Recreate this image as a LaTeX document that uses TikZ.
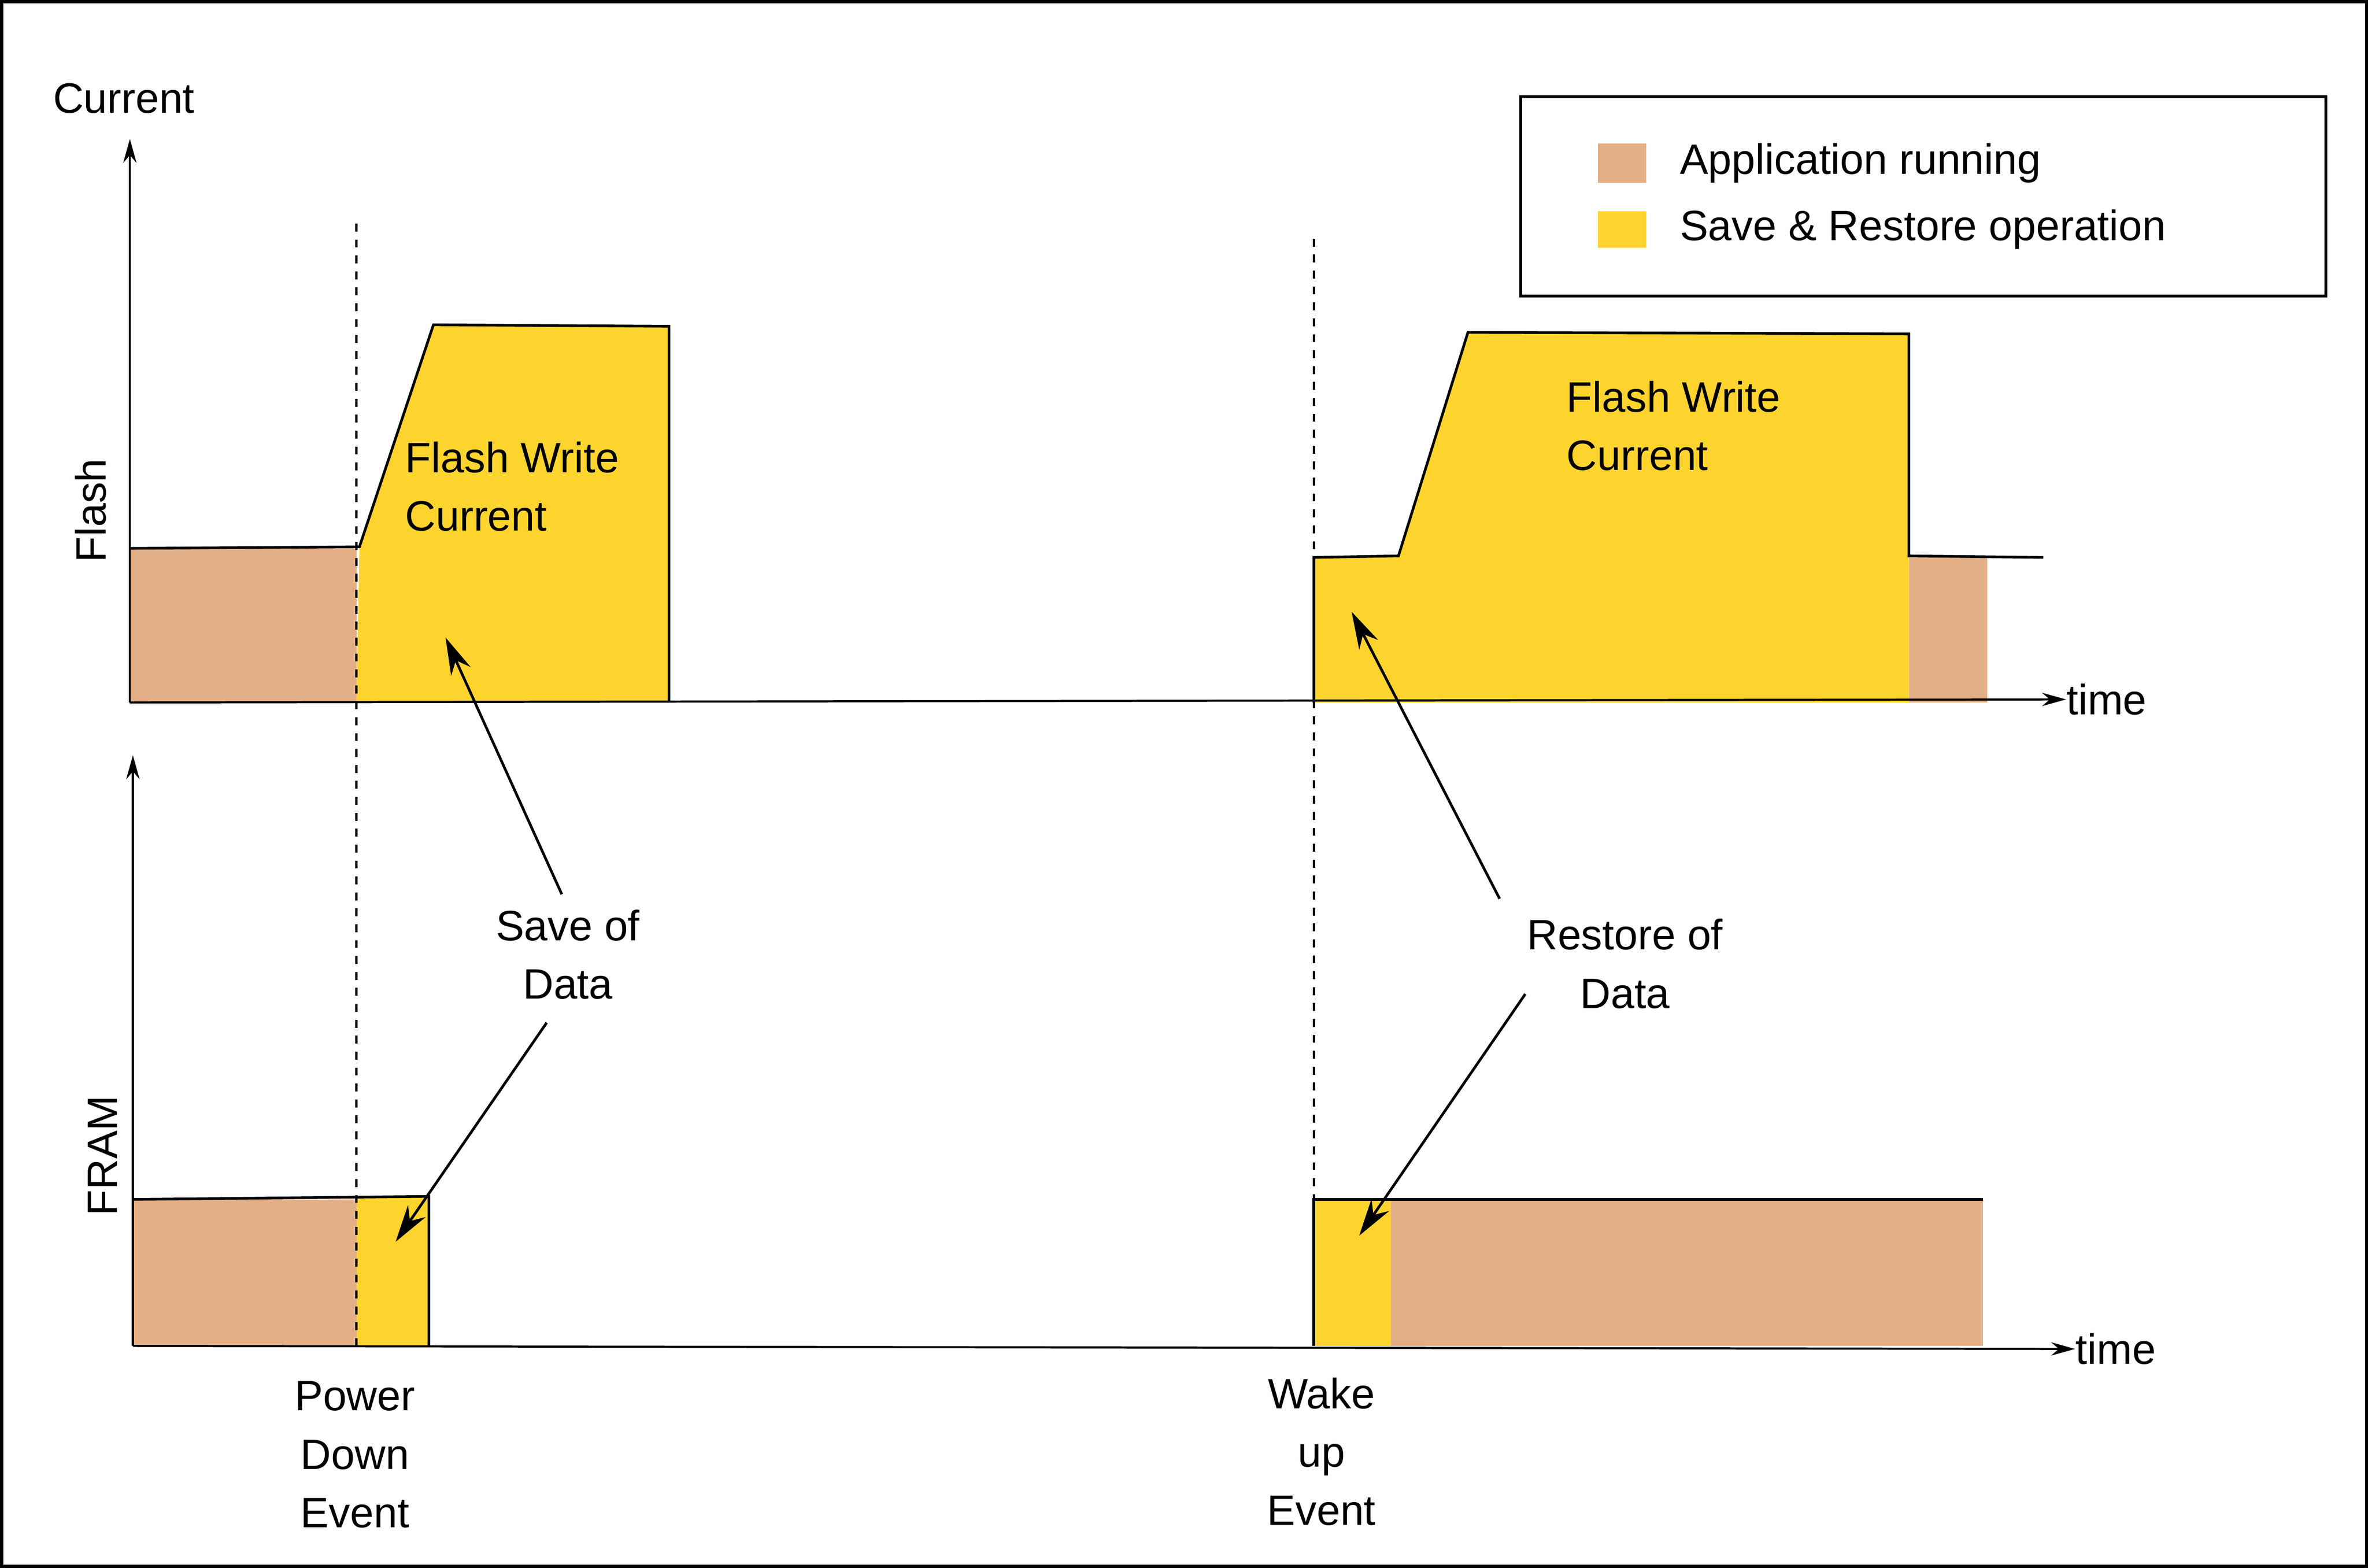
\documentclass[tikz,border=0pt]{standalone}
\usepackage{fontspec}
\setmainfont{Liberation Sans}
\usetikzlibrary{arrows.meta,positioning}
\definecolor{appbrown}{HTML}{E3AF86}
\definecolor{saveyellow}{HTML}{FDD42E}
\begin{document}
\begin{tikzpicture}[x=0.02cm,y=-0.02cm,font=\fontsize{16}{22}\selectfont,
    axis/.style={-{Stealth[length=9pt,width=5pt]},line width=0.8pt},
    callout/.style={-{Stealth[length=14pt,width=8pt]},line width=1pt},
    txt/.style={align=center,inner sep=1pt},
    event/.style={dashed,line width=0.8pt}]
    \useasboundingbox (0,0) rectangle (1568,1038);
    \draw[line width=1.2pt] (1,1) rectangle (1567,1037);
    % flash panel
    \fill[appbrown] (86,363) rectangle (236,465);
    \fill[saveyellow] (236,465) -- (238,362) -- (287,215) -- (443,216) -- (443,465) -- cycle;
    \draw[line width=1pt] (86,363) -- (238,362) -- (287,215) -- (443,216) -- (443,465);
    \fill[saveyellow] (870,465) -- (870,369) -- (926,368) -- (972,220) -- (1264,221) -- (1264,465) -- cycle;
    \fill[appbrown] (1264,369) rectangle (1316,465);
    \draw[line width=1pt] (870,465) -- (870,369) -- (926,368) -- (972,220) -- (1264,221) -- (1264,368) -- (1353,369);
    % fram panel
    \fill[appbrown] (88,794) rectangle (236,891);
    \fill[saveyellow] (236,792) rectangle (284,891);
    \draw[line width=1pt] (88,794) -- (284,792) -- (284,891);
    \fill[saveyellow] (870,794) rectangle (921,891);
    \fill[appbrown] (921,794) rectangle (1313,891);
    \draw[line width=1pt] (870,891) -- (870,794) -- (1313,794);
    % axes
    \coordinate (o1) at (86,465);
    \coordinate (o2) at (88,891);
    \node (cur) at (82,65) {Current};
    \node[rotate=90] (flash) at (60,338) {Flash};
    \node[rotate=90] (fram) at (68,765) {FRAM};
    \node[anchor=west,inner sep=0pt] (t1) at (1368,463) {time};
    \node[anchor=west,inner sep=0pt] (t2) at (1374,893) {time};
    \draw[axis] (o1) -- (86,92);
    \draw[axis] (o1) -- (t1.west);
    \draw[axis] (o2) -- (88,500);
    \draw[axis] (o2) -- (t2.west);
    % events
    \draw[event] (236,148) -- (236,891);
    \draw[event] (870,158) -- (870,891);
    \node[txt] (pd) at (235,963) {Power\\Down\\Event};
    \node[txt] (wu) at (875,961) {Wake\\up\\Event};
    % labels
    \node[align=left,anchor=west,inner sep=0pt] (fw1) at (268,322) {Flash Write\\Current};
    \node[align=left,anchor=west,inner sep=0pt] (fw2) at (1037,282) {Flash Write\\Current};
    \node[txt] (save) at (376,632) {Save of\\Data};
    \node[txt] (rest) at (1076,638) {Restore of\\Data};
    \coordinate (sf) at (295,422);
    \coordinate (sr) at (262,822);
    \coordinate (rf) at (895,405);
    \coordinate (rr) at (900,818);
    \draw[callout] (372,592) -- (sf);
    \draw[callout] (362,677) -- (sr);
    \draw[callout] (993,595) -- (rf);
    \draw[callout] (1010,658) -- (rr);
    % legend
    \draw[line width=1pt] (1007,64) rectangle (1540,196);
    \fill[appbrown] (1058,95) rectangle (1090,121);
    \fill[saveyellow] (1058,140) rectangle (1090,164);
    \node[anchor=west,inner sep=0pt] (lapp) at (1112,108) {Application running};
    \node[anchor=west,inner sep=0pt] (lsave) at (1112,152) {Save \& Restore operation};
\end{tikzpicture}
\end{document}
